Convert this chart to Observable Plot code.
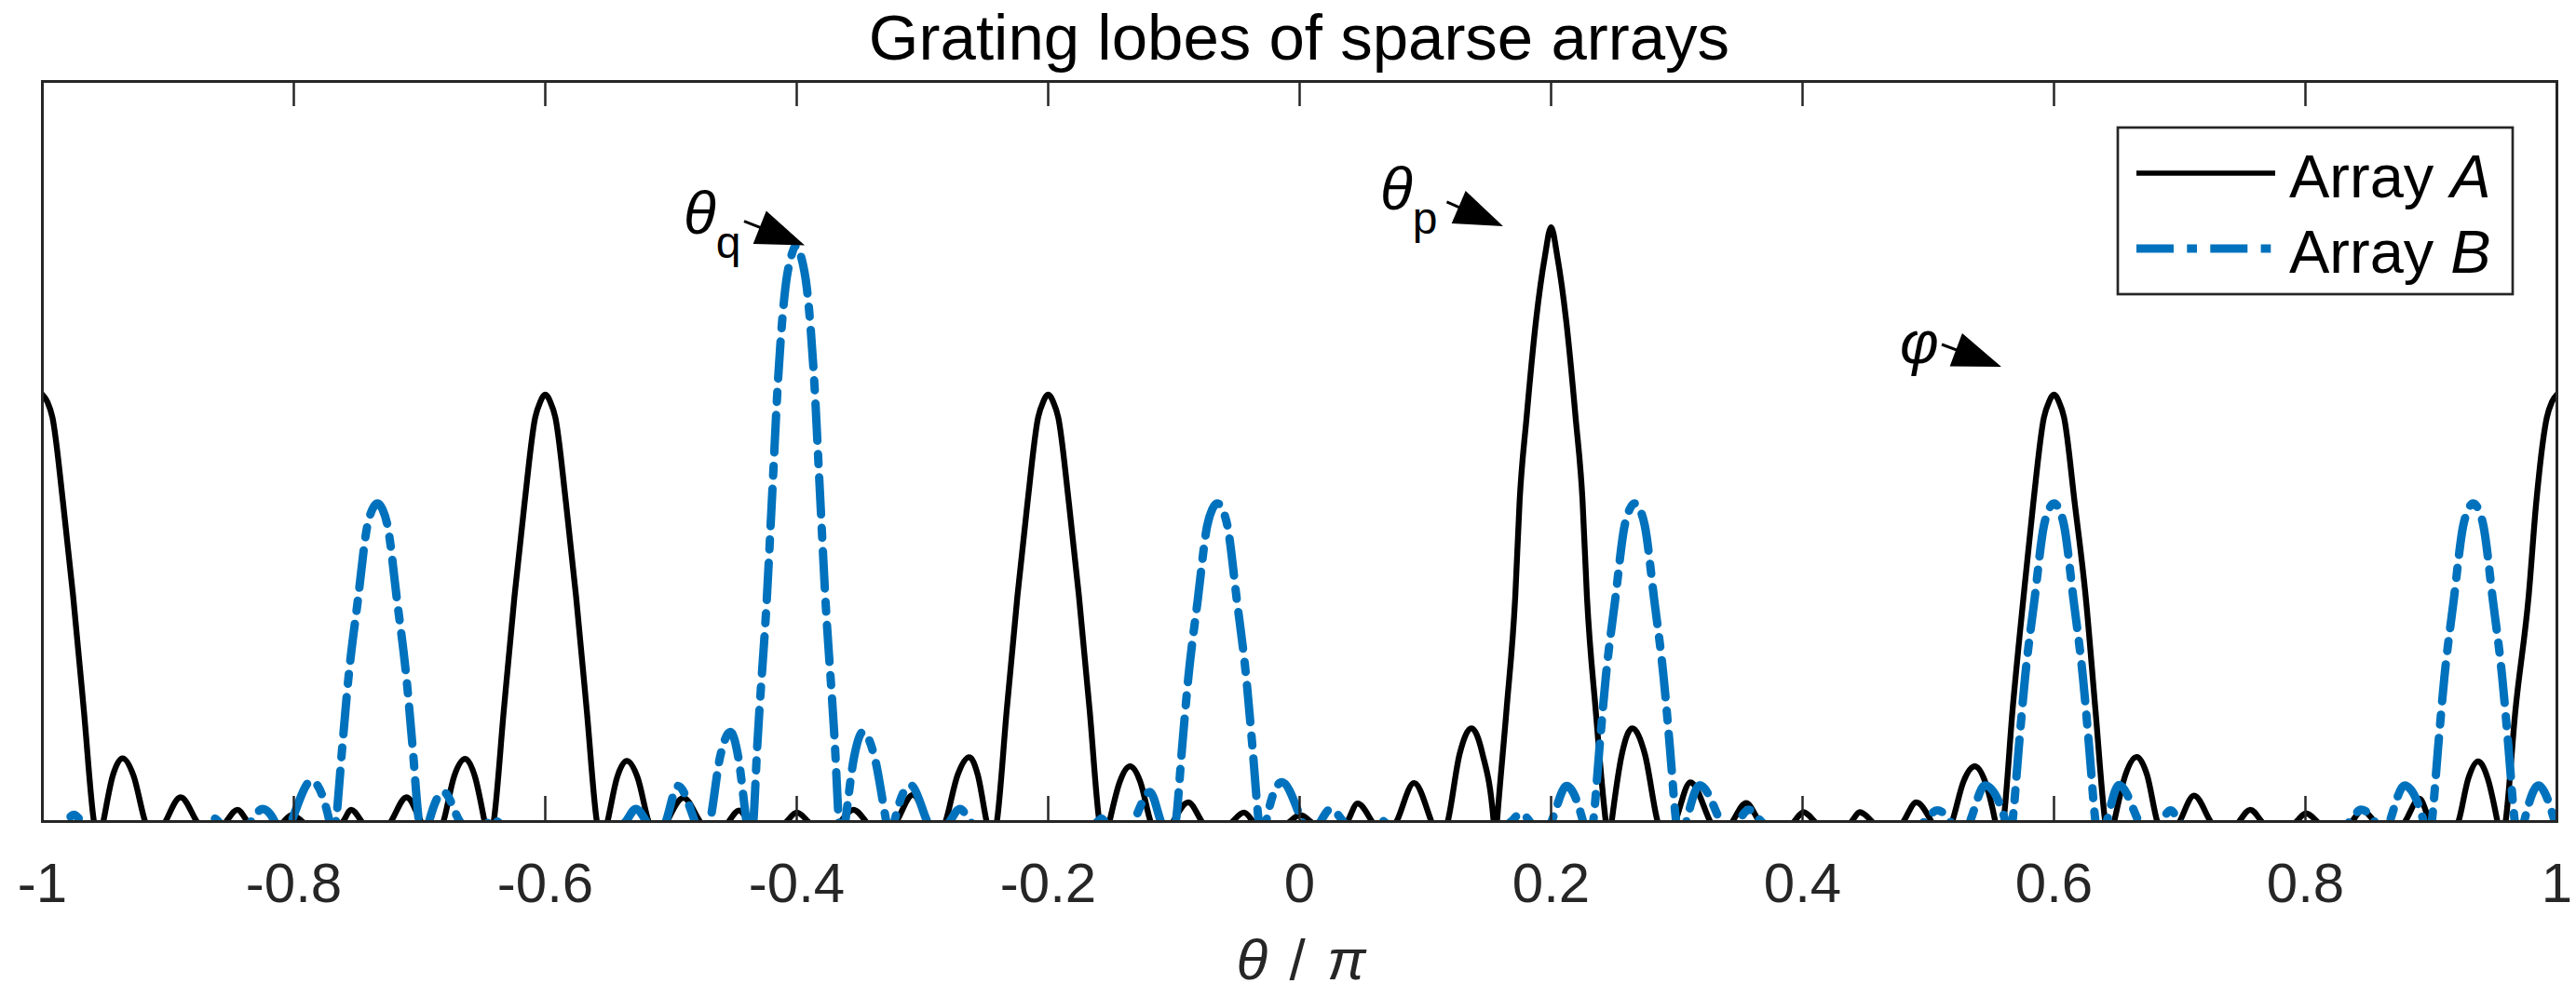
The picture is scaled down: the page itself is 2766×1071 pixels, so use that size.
<!DOCTYPE html>
<html>
<head>
<meta charset="utf-8">
<script src="https://cdn.jsdelivr.net/npm/d3@7"></script>
<script src="https://cdn.jsdelivr.net/npm/@observablehq/plot@0.6"></script>
<style>
  html, body { margin: 0; padding: 0; background: #ffffff; }
  svg { display: block; }
</style>
</head>
<body>
<div id="chart"></div>
<script>
// ---------------- data ----------------
const chartTitle = "Grating lobes of sparse arrays";
const xTicks = [-1, -0.8, -0.6, -0.4, -0.2, 0, 0.2, 0.4, 0.6, 0.8, 1];
const xTickLabels = ["-1", "-0.8", "-0.6", "-0.4", "-0.2", "0", "0.2", "0.4", "0.6", "0.8", "1"];
const seriesNames = ["Array A", "Array B"];

// Array A: [theta/pi, normalised level]  (values below 0 fall under the axis floor)
const arrayA = [
  [-1.000,0.577],[-0.996,0.567],[-0.992,0.546],[-0.9835,0.430],[-0.9755,0.304],[-0.967,0.150],[-0.959,0],[-0.955,-0.03],
  [-0.9515,0],[-0.944,0.062],[-0.9362,0.0855],[-0.9275,0.062],[-0.9183,0],[-0.910,-0.03],
  [-0.902,0],[-0.890,0.0327],[-0.8772,0],[-0.8655,-0.03],
  [-0.8537,0],[-0.8449,0.016],[-0.8368,0],[-0.819,-0.03],
  [-0.808,0],[-0.8015,0.009],[-0.7934,0],[-0.777,-0.03],
  [-0.7608,0],[-0.7543,0.016],[-0.7461,0],[-0.734,-0.03],
  [-0.7227,0],[-0.7103,0.0327],[-0.6989,0],[-0.690,-0.03],
  [-0.681,0],[-0.6725,0.061],[-0.6636,0.0847],[-0.656,0.061],[-0.6483,0],[-0.6448,-0.03],
  [-0.641,0],[-0.633,0.150],[-0.6245,0.304],[-0.6165,0.430],[-0.608,0.546],[-0.604,0.567],[-0.600,0.577],[-0.596,0.567],[-0.592,0.546],[-0.5835,0.430],[-0.5755,0.304],[-0.567,0.150],[-0.559,0],[-0.555,-0.03],
  [-0.5505,0],[-0.543,0.059],[-0.5352,0.082],[-0.5265,0.059],[-0.5179,0],[-0.510,-0.03],
  [-0.503,0],[-0.490,0.032],[-0.477,0],[-0.465,-0.03],
  [-0.454,0],[-0.446,0.015],[-0.438,0],[-0.423,-0.03],
  [-0.408,0],[-0.400,0.012],[-0.391,0],[-0.378,-0.03],
  [-0.365,0],[-0.355,0.016],[-0.345,0],[-0.333,-0.03],
  [-0.3207,0],[-0.3077,0.036],[-0.2962,0],[-0.289,-0.03],
  [-0.2816,0],[-0.272,0.063],[-0.2627,0.087],[-0.256,0.063],[-0.249,0],[-0.245,-0.03],
  [-0.2408,0],[-0.233,0.150],[-0.2245,0.304],[-0.2165,0.430],[-0.208,0.546],[-0.204,0.567],[-0.200,0.577],[-0.196,0.567],[-0.192,0.546],[-0.1835,0.430],[-0.1755,0.304],[-0.167,0.150],[-0.1593,0],[-0.155,-0.03],
  [-0.1512,0],[-0.143,0.054],[-0.1349,0.0746],[-0.1268,0.054],[-0.1186,0],[-0.110,-0.03],
  [-0.1006,0],[-0.0886,0.026],[-0.0778,0],[-0.066,-0.03],
  [-0.0533,0],[-0.0442,0.012],[-0.037,0],[-0.022,-0.03],
  [-0.0077,0],[0.0005,0.009],[0.0086,0],[0.023,-0.03],
  [0.038,0],[0.0461,0.0243],[0.0575,0],[0.067,-0.03],
  [0.0771,0],[0.091,0.052],[0.1048,0],[0.111,-0.03],
  [0.1178,0],[0.1272,0.091],[0.1367,0.126],[0.1455,0.091],[0.1543,0],[0.1557,-0.03],
  [0.157,0],[0.1645,0.150],[0.1715,0.304],[0.175,0.434],[0.1805,0.546],[0.188,0.677],[0.195,0.763],[0.200,0.803],[0.205,0.763],[0.212,0.677],[0.2195,0.546],[0.225,0.434],[0.2285,0.304],[0.2355,0.150],[0.2435,0],[0.246,-0.03],
  [0.2482,0],[0.2563,0.091],[0.2645,0.126],[0.2746,0.091],[0.2847,0],[0.2918,-0.03],
  [0.2988,0],[0.3108,0.0528],[0.3265,0],[0.335,-0.03],
  [0.3444,0],[0.3552,0.025],[0.3656,0],[0.380,-0.03],
  [0.3933,0],[0.4008,0.0126],[0.4096,0],[0.424,-0.03],
  [0.439,0],[0.4455,0.0126],[0.4552,0],[0.468,-0.03],
  [0.4803,0],[0.4905,0.026],[0.5025,0],[0.511,-0.03],
  [0.519,0],[0.528,0.054],[0.537,0.0746],[0.5452,0.054],[0.5533,0],[0.5565,-0.03],
  [0.5598,0],[0.567,0.150],[0.5758,0.304],[0.5835,0.430],[0.592,0.546],[0.596,0.567],[0.600,0.577],[0.604,0.567],[0.608,0.546],[0.6165,0.430],[0.6252,0.304],[0.633,0.150],[0.6407,0],[0.644,-0.03],
  [0.6479,0],[0.6568,0.063],[0.6658,0.0872],[0.674,0.063],[0.6821,0],[0.691,-0.03],
  [0.700,0],[0.7114,0.035],[0.7245,0],[0.736,-0.03],
  [0.7473,0],[0.7561,0.016],[0.7652,0],[0.779,-0.03],
  [0.7929,0],[0.8004,0.011],[0.8092,0],[0.823,-0.03],
  [0.837,0],[0.8451,0.015],[0.8549,0],[0.867,-0.03],
  [0.8793,0],[0.8907,0.031],[0.8989,0],[0.910,-0.03],
  [0.9217,0],[0.9295,0.058],[0.9374,0.0813],[0.945,0.058],[0.9527,0],[0.956,-0.03],
  [0.9592,0],[0.967,0.150],[0.9775,0.304],[0.9835,0.430],[0.992,0.546],[0.996,0.567],[1.000,0.577]
];

// Array B: [theta/pi, normalised level]
const arrayB = [
  [-1.000,-0.05],[-0.981,0],[-0.975,0.009],[-0.9685,0],[-0.92,-0.05],
  [-0.866,0],[-0.863,0.004],[-0.860,0],[-0.847,-0.03],
  [-0.834,0],[-0.825,0.017],[-0.8153,0],[-0.809,-0.03],
  [-0.802,0],[-0.786,0.055],[-0.7716,0],[-0.769,-0.03],
  [-0.7665,0],[-0.7615,0.10],[-0.7565,0.195],[-0.749,0.30],[-0.7415,0.40],[-0.7375,0.422],[-0.7335,0.43],[-0.7295,0.422],[-0.7255,0.40],[-0.718,0.30],[-0.7105,0.195],[-0.7055,0.10],[-0.7005,0],[-0.6965,-0.03],
  [-0.6924,0],[-0.681,0.040],[-0.668,0],[-0.655,-0.03],
  [-0.645,0],[-0.6418,0.005],[-0.638,0],[-0.59,-0.05],
  [-0.536,0],[-0.528,0.017],[-0.5196,0],[-0.5105,-0.03],
  [-0.504,0],[-0.4945,0.048],[-0.481,0],[-0.475,-0.03],
  [-0.469,0],[-0.461,0.087],[-0.4527,0.121],[-0.4465,0.087],[-0.440,0],[-0.4375,-0.03],
  [-0.4345,0],[-0.4315,0.099],[-0.4237,0.304],[-0.419,0.46],[-0.4151,0.59],[-0.4091,0.72],[-0.4045,0.763],[-0.4005,0.778],[-0.3965,0.763],[-0.3919,0.72],[-0.3859,0.59],[-0.382,0.46],[-0.3773,0.304],[-0.3695,0.099],[-0.3665,0],[-0.364,-0.03],
  [-0.3614,0],[-0.3544,0.087],[-0.3474,0.121],[-0.3381,0.087],[-0.3288,0],[-0.3255,-0.03],
  [-0.3223,0],[-0.3093,0.049],[-0.2962,0],[-0.288,-0.03],
  [-0.2783,0],[-0.2701,0.017],[-0.262,0],[-0.21,-0.05],
  [-0.1605,0],[-0.1577,0.004],[-0.155,0],[-0.144,-0.03],
  [-0.1322,0],[-0.1192,0.040],[-0.1104,0],[-0.104,-0.03],
  [-0.0985,0],[-0.0935,0.10],[-0.0885,0.195],[-0.081,0.30],[-0.0735,0.40],[-0.0695,0.422],[-0.0655,0.43],[-0.0615,0.422],[-0.0575,0.40],[-0.050,0.30],[-0.0425,0.195],[-0.0375,0.10],[-0.0325,0],[-0.0295,-0.03],
  [-0.0266,0],[-0.0142,0.053],[0.002,0],[0.009,-0.03],
  [0.0167,0],[0.0249,0.017],[0.0347,0],[0.050,-0.03],
  [0.061,0],[0.064,0.004],[0.067,0],[0.12,-0.05],
  [0.1683,0],[0.1758,0.011],[0.183,0],[0.192,-0.03],
  [0.2003,0],[0.2124,0.048],[0.2254,0],[0.2295,-0.03],
  [0.2335,0],[0.2385,0.10],[0.2435,0.195],[0.251,0.30],[0.2585,0.40],[0.2625,0.422],[0.2665,0.43],[0.2705,0.422],[0.2745,0.40],[0.282,0.30],[0.2895,0.195],[0.2945,0.10],[0.2995,0],[0.3035,-0.03],
  [0.3076,0],[0.3183,0.049],[0.3346,0],[0.342,-0.03],
  [0.3493,0],[0.3574,0.016],[0.3672,0],[0.43,-0.05],
  [0.497,0],[0.507,0.015],[0.5175,0],[0.525,-0.03],
  [0.5331,0],[0.545,0.0486],[0.5615,0],[0.5645,-0.03],
  [0.567,0],[0.572,0.10],[0.577,0.195],[0.5845,0.30],[0.592,0.40],[0.596,0.422],[0.600,0.43],[0.604,0.422],[0.608,0.40],[0.6155,0.30],[0.623,0.195],[0.628,0.10],[0.633,0],[0.6375,-0.03],
  [0.642,0],[0.6518,0.0495],[0.6674,0],[0.676,-0.03],
  [0.6853,0],[0.6928,0.015],[0.6998,0],[0.77,-0.05],
  [0.8353,0],[0.8441,0.016],[0.8549,0],[0.861,-0.03],
  [0.867,0],[0.8787,0.0486],[0.894,0],[0.8975,-0.03],
  [0.9005,0],[0.9055,0.10],[0.9105,0.195],[0.918,0.30],[0.9255,0.40],[0.9295,0.422],[0.9335,0.43],[0.9375,0.422],[0.9415,0.40],[0.949,0.30],[0.9565,0.195],[0.9615,0.10],[0.9665,0],[0.970,-0.03],
  [0.9739,0],[0.9853,0.0486],[0.9983,0],[1.000,-0.01]
];

// annotation arrows: label anchor, arrow tail, arrow tip (data coordinates)
const annotations = [
  {sym: "θ", sub: "q", lx: -0.4896, ly: 0.7937, x1: -0.4415, y1: 0.8106, x2: -0.3933, y2: 0.778},
  {sym: "θ", sub: "p", lx: 0.0644, ly: 0.8258, x1: 0.1174, y1: 0.8365, x2: 0.1622, y2: 0.8038},
  {sym: "φ", sub: "", lx: 0.4778, ly: 0.619, x1: 0.5111, y1: 0.644, x2: 0.5585, y2: 0.6138}
];

// ---------------- chart ----------------
const FONT = "'Liberation Sans', Arial, Helvetica, sans-serif";
const AX = "#262626";
const BLUE = "#0072BD";
const DASH = "40,14.3,10.7,14.3";

const toRows = (arr) => arr.map(([t, g]) => ({theta: t, level: g}));
const rowsA = toRows(arrayA);
const rowsB = toRows(arrayB);

const W = 2766, H = 1071;
const mL = 45, mR = 21, mT = 87, mB = 189;
const plotH = H - mT - mB;
const tickLen = 27;

const plot = Plot.plot({
  width: W,
  height: H,
  marginLeft: mL,
  marginRight: mR,
  marginTop: mT,
  marginBottom: mB,
  style: {fontFamily: FONT, background: "#ffffff", color: AX, overflow: "visible"},
  x: {domain: [-1, 1]},
  y: {domain: [0, 1], axis: null},
  marks: [
    Plot.line(rowsA, {x: "theta", y: "level", stroke: "#000000", strokeWidth: 6.3, curve: "monotone-x", clip: true}),
    Plot.line(rowsB, {x: "theta", y: "level", stroke: BLUE, strokeWidth: 9, strokeDasharray: DASH, curve: "monotone-x", clip: true}),
    Plot.ruleX(xTicks, {stroke: AX, strokeWidth: 2.5, insetTop: plotH - tickLen}),
    Plot.ruleX(xTicks, {stroke: AX, strokeWidth: 2.5, insetBottom: plotH - tickLen}),
    Plot.frame({stroke: AX, strokeWidth: 3}),
    Plot.axisX(xTicks, {
      anchor: "bottom",
      tickSize: 0,
      tickPadding: 44,
      tickFormat: (d) => xTickLabels[xTicks.indexOf(d)],
      fontSize: 60,
      fill: AX,
      label: null
    })
  ]
});

document.getElementById("chart").appendChild(plot);

const sx = plot.scale("x");
const sy = plot.scale("y");
const X = (v) => sx.apply(v);
const Y = (v) => sy.apply(v);
const svg = d3.select(plot);

// title
svg.append("text")
  .attr("x", (mL + (W - mR)) / 2)
  .attr("y", 64)
  .attr("text-anchor", "middle")
  .attr("font-family", FONT)
  .attr("font-size", 69)
  .attr("fill", "#000000")
  .text(chartTitle);

// x-axis label  θ / π
const xl = svg.append("text")
  .attr("x", (mL + (W - mR)) / 2 + 2)
  .attr("y", 1052)
  .attr("text-anchor", "middle")
  .attr("font-family", FONT)
  .attr("font-size", 62)
  .attr("fill", AX);
xl.append("tspan").attr("font-style", "italic").text("θ");
xl.append("tspan").attr("dx", 6).text(" / ");
xl.append("tspan").attr("dx", 6).attr("font-style", "italic").text("π");

// annotations with filled arrow heads
const ann = svg.append("g");
for (const a of annotations) {
  const t = ann.append("text")
    .attr("x", X(a.lx))
    .attr("y", Y(a.ly))
    .attr("text-anchor", "start")
    .attr("font-family", FONT)
    .attr("font-size", 64)
    .attr("fill", "#000000");
  t.append("tspan").attr("font-style", "italic").text(a.sym);
  if (a.sub) t.append("tspan").attr("font-size", 48).attr("dy", 26).text(a.sub);

  const px1 = X(a.x1), py1 = Y(a.y1), px2 = X(a.x2), py2 = Y(a.y2);
  const dx = px2 - px1, dy = py2 - py1;
  const L = Math.hypot(dx, dy);
  const ux = dx / L, uy = dy / L;
  const headL = 52, headW = 19;
  const bx = px2 - ux * headL, by = py2 - uy * headL;
  ann.append("line")
    .attr("x1", px1).attr("y1", py1)
    .attr("x2", bx + ux * 4).attr("y2", by + uy * 4)
    .attr("stroke", "#000000").attr("stroke-width", 3);
  ann.append("path")
    .attr("d", `M${px2},${py2}L${bx - uy * headW},${by + ux * headW}L${bx + uy * headW},${by - ux * headW}Z`)
    .attr("fill", "#000000");
}

// legend
const lg = svg.append("g");
lg.append("rect")
  .attr("x", 2274).attr("y", 137).attr("width", 424).attr("height", 179)
  .attr("fill", "#ffffff").attr("stroke", AX).attr("stroke-width", 2.7);
const legendRows = [
  {name: seriesNames[0], y: 186, base: 212, stroke: "#000000", width: 5.5, dash: null},
  {name: seriesNames[1], y: 267, base: 293, stroke: BLUE, width: 9, dash: DASH}
];
for (const r of legendRows) {
  const ln = lg.append("line")
    .attr("x1", 2294).attr("x2", 2443)
    .attr("y1", r.y).attr("y2", r.y)
    .attr("stroke", r.stroke).attr("stroke-width", r.width);
  if (r.dash) ln.attr("stroke-dasharray", r.dash);
  const parts = r.name.split(" ");
  const tx = lg.append("text")
    .attr("x", 2458).attr("y", r.base)
    .attr("text-anchor", "start")
    .attr("font-family", FONT).attr("font-size", 65).attr("fill", "#000000");
  tx.append("tspan").text(parts[0] + " ");
  tx.append("tspan").attr("font-style", "italic").text(parts[1]);
}
</script>
</body>
</html>
